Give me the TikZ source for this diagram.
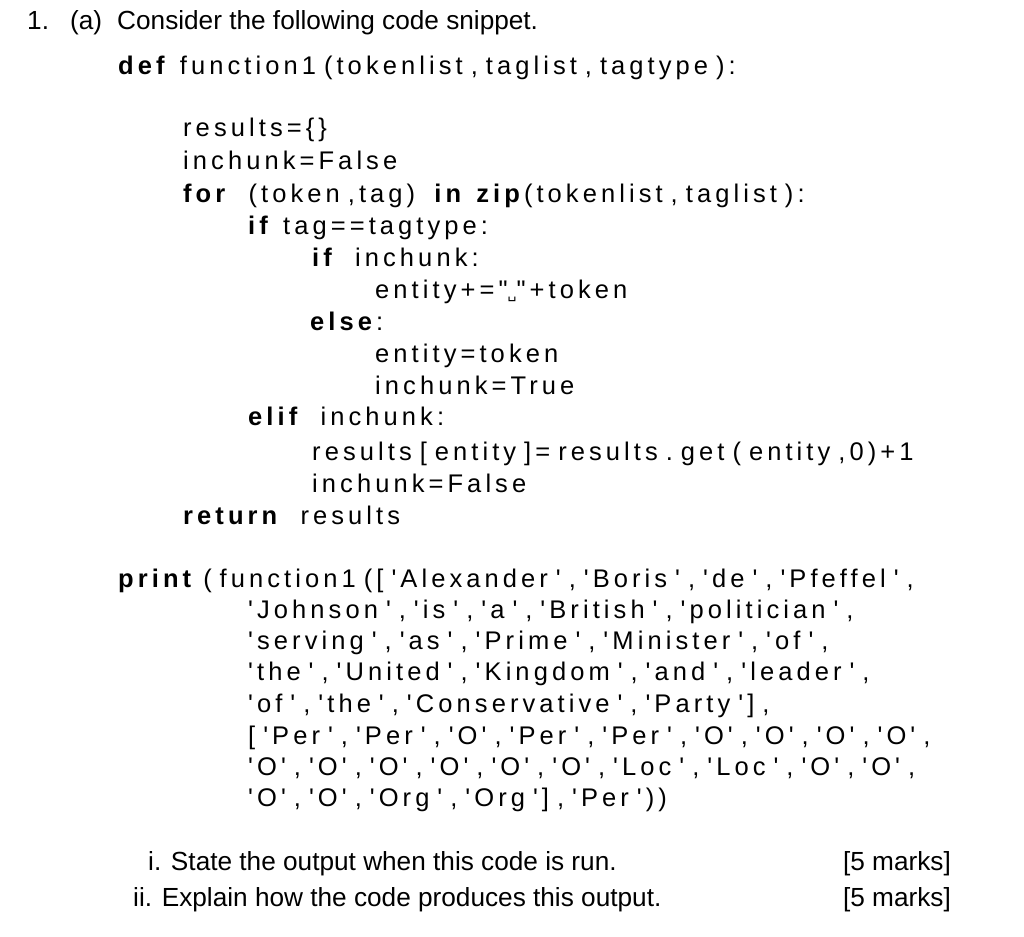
\documentclass[tikz,border=0pt]{standalone}
\usepackage{fontspec}
\setmainfont{Liberation Sans}
\newfontfamily\cf[LetterSpace=16]{Liberation Sans}
\newfontfamily\dv{DejaVu Sans}
\tikzset{t/.style={anchor=base west,inner sep=0pt,font=\fontsize{26.2}{29}\selectfont},
c/.style={anchor=base west,inner sep=0pt,font=\fontsize{25.5}{29}\selectfont\cf}}
\newcommand\kw[1]{\textbf{#1}}
\newcommand\g{\hspace{8pt}}
\begin{document}
\begin{tikzpicture}[x=1pt,y=-1pt]
\useasboundingbox[fill=white] (0,0) rectangle (1024,936);
\node[t] (n1) at (27,30) {1.};
\node[t] (na) at (70,30) {(a)};
\node[t] (nb) at (117,30) {Consider the following code snippet.};
\node[c] (l1) at (118,75) {\kw{def} function1\g(tokenlist\g,\g taglist\g,\g tagtype\g):};
\node[c] (l2) at (183,137) {results=\{\}};
\node[c] (l3) at (183,170) {inchunk=False};
\node[c] (l4) at (183,202) {\kw{for} \g(token\g,tag) \g\kw{in} \kw{zip}(tokenlist\g,\g taglist\g):};
\node[c] (l5) at (248,234) {\kw{if} tag==tagtype:};
\node[c] (l6) at (312,266) {\kw{if} \g inchunk:};
\node[c] (l7) at (375,298) {entity+="{\dv\fontsize{14}{14}\selectfont ␣}"+token};
\node[c] (l8) at (310,330) {\kw{else}:};
\node[c] (l9) at (375,362) {entity=token};
\node[c] (l10) at (375,394) {inchunk=True};
\node[c] (l11) at (248,425) {\kw{elif} \g inchunk:};
\node[c] (l12) at (312,460) {results\g[\g entity\g]=\g results\g.\g get\g(\g entity\g,0)+1};
\node[c] (l13) at (312,492) {inchunk=False};
\node[c] (l14) at (183,524) {\kw{return} \g results};
\node[c] (p1) at (118,587) {\kw{print}\g(\g function1\g([\g'Alexander\g'\g,\g'Boris\g'\g,\g'de\g'\g,\g'Pfeffel\g'\g,};
\node[c] (p2) at (248,618) {'Johnson\g'\g,\g'is\g'\g,\g'a\g'\g,\g'British\g'\g,\g'politician\g'\g,};
\node[c] (p3) at (248,649) {'serving\g'\g,\g'as\g'\g,\g'Prime\g'\g,\g'Minister\g'\g,\g'of\g'\g,};
\node[c] (p4) at (248,680) {'the\g'\g,\g'United\g'\g,\g'Kingdom\g'\g,\g'and\g'\g,\g'leader\g'\g,};
\node[c] (p5) at (248,712) {'of\g'\g,\g'the\g'\g,\g'Conservative\g'\g,\g'Party\g']\g,};
\node[c] (p6) at (248,744) {[\g'Per\g'\g,\g'Per\g'\g,\g'O'\g,\g'Per\g'\g,\g'Per\g'\g,\g'O'\g,\g'O'\g,\g'O'\g,\g'O'\g,};
\node[c] (p7) at (248,775) {'O'\g,\g'O'\g,\g'O'\g,\g'O'\g,\g'O'\g,\g'O'\g,\g'Loc\g'\g,\g'Loc\g'\g,\g'O'\g,\g'O'\g,};
\node[c] (p8) at (248,806) {'O'\g,\g'O'\g,\g'Org\g'\g,\g'Org\g']\g,\g'Per\g'))};
\node[t] (q1) at (148,870) {i. State the output when this code is run.};
\node[t] (q2) at (133,906) {ii. Explain how the code produces this output.};
\node[t,anchor=base east] (m1) at (951,870) {[5 marks]};
\node[t,anchor=base east] (m2) at (951,906) {[5 marks]};
\end{tikzpicture}
\end{document}
